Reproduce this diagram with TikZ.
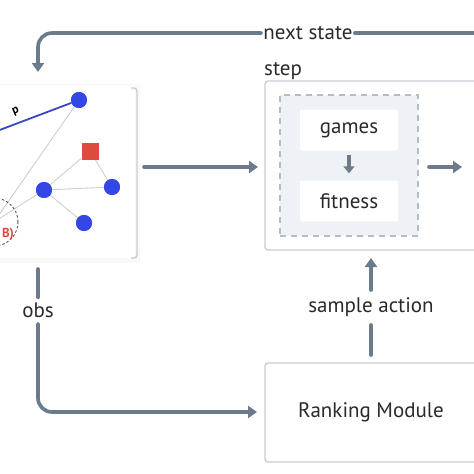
\documentclass[tikz,border=0pt]{standalone}
\usepackage{fontspec}
\setmainfont{PT Sans}
\usetikzlibrary{arrows.meta,calc}
\definecolor{arrowc}{HTML}{6B7B8C}
\definecolor{boxc}{HTML}{C8CDD3}
\definecolor{dashc}{HTML}{B5BCC4}
\definecolor{innerc}{HTML}{EEF1F5}
\definecolor{nodeblue}{HTML}{3446E6}
\definecolor{sqred}{HTML}{DD4B3E}
\definecolor{edgec}{HTML}{CFCFCF}
\definecolor{pline}{HTML}{3A46C4}
\definecolor{textc}{HTML}{2A2A2A}
\tikzset{
  flow/.style={line width=3.6pt, draw=arrowc, line cap=round},
  flowarrow/.style={flow, -{Triangle[length=9pt,width=12pt]}},
  label/.style={font=\fontsize{21}{21}\selectfont, text=textc, inner sep=0pt},
  bigbox/.style={draw=boxc, line width=1.4pt, rounded corners=3pt, fill=white, inner sep=0pt},
  whitebox/.style={fill=white, rounded corners=2pt, inner sep=0pt, minimum width=98pt, minimum height=41pt, font=\fontsize{21}{21}\selectfont, text=textc},
  bluenode/.style={circle, fill=nodeblue, minimum size=16pt, inner sep=0pt},
  redsq/.style={fill=sqred, minimum size=17pt, inner sep=0pt},
  edge/.style={draw=edgec, line width=0.9pt},
}
\begin{document}
\begin{tikzpicture}[x=1pt, y=-1pt]
\useasboundingbox (0,0) rectangle (474,474);
\begin{scope}
\clip (0,0) rectangle (474,474);
% left panel with soft shadow
\fill[black!5] (-6,86) rectangle (138,261);
\fill[black!2.5] (-6,84) rectangle (140,263);
\node[fill=white, inner sep=0pt, minimum width=141pt, minimum height=173pt] (panel) at (64.5,171.5) {};
% bracket
\draw[boxc, line width=1.4pt, rounded corners=3pt] (131,88) -- (137,88) -- (137,258) -- (131,258);
% graph
\coordinate (B) at (-6,222);
\coordinate (P) at (-40,145);
\node[bluenode] (n1) at (79,100) {};
\node[redsq] (sq) at (90,151) {};
\node[bluenode] (n2) at (44,190) {};
\node[bluenode] (n3) at (112,187) {};
\node[bluenode] (n4) at (84,223) {};
\draw[edge] (n1) -- (B);
\draw[edge] (n2) -- (B);
\draw[edge] (n2) -- (sq);
\draw[edge] (n2) -- (n3);
\draw[edge] (n2) -- (n4);
\draw[edge] (sq) -- (n3);
\draw[pline, line width=1.8pt] (P) -- (n1);
\node[font=\bfseries\fontsize{12}{12}\selectfont, rotate=22] (plab) at (16,112) {p};
\node[bluenode] at (n1) {};
\node[redsq] at (sq) {};
\node[bluenode] at (n2) {};
\node[bluenode] at (n3) {};
\node[bluenode] at (n4) {};
\node[circle, draw=black!65, dash pattern=on 2.5pt off 2pt, line width=0.9pt, minimum size=48pt, inner sep=0pt] (bc) at (B) {};
\node[text=sqred, font=\bfseries\fontsize{13}{13}\selectfont, inner sep=0pt] (blab) at (8,234) {B)};
\end{scope}
% step box
\node[bigbox, minimum width=215pt, minimum height=169pt] (step) at (372.5,165.5) {};
\node[label, anchor=base west] (steplab) at (264,75) {step};
\node[draw=dashc, fill=innerc, dashed, dash pattern=on 6pt off 5pt, line width=1.2pt, minimum width=138pt, minimum height=141pt, inner sep=0pt] (inner) at (349,165.5) {};
\node[whitebox] (games) at (349,130) {games};
\node[whitebox] (fitness) at (349,201) {fitness};
\draw[flow, line cap=butt, -{Triangle[length=7pt,width=11pt]}] ($(games.south)+(0,4)$) -- ($(fitness.north)+(0,-7)$);
% ranking
\node[bigbox, minimum width=215pt, minimum height=99pt] (rank) at (372.5,412.5) {};
\node[label] (ranklab) at (371,412) {Ranking Module};
% next state
\node[label] (ns) at (308,33) {next state};
\coordinate (nsr) at (480,33);
\coordinate (nsl) at (38,33);
\coordinate (nsd) at (38,72);
\draw[flow] (nsr) -- ([xshift=2pt]ns.east);
\draw[flowarrow, rounded corners=14pt] ([xshift=-2pt]ns.west) -- (nsl) -- (nsd);
% panel -> step
\coordinate (a1) at (144,167);
\coordinate (a2) at (258,167);
\draw[flowarrow] (a1) -- (a2);
% step -> right
\coordinate (a3) at (429,167);
\coordinate (a4) at (462,167);
\draw[flowarrow] (a3) -- (a4);
% obs
\node[label] (obs) at (38,310) {obs};
\coordinate (o1) at (38,269);
\coordinate (o2) at (38,412);
\coordinate (o3) at (257,412);
\draw[flow] (o1) -- ([yshift=5pt]obs.north);
\draw[flowarrow, rounded corners=14pt] ([yshift=-6pt]obs.south) -- (o2) -- (o3);
% sample action
\node[label] (sa) at (371,307) {sample action};
\coordinate (s0) at (371,355);
\coordinate (s0b) at (371,325);
\coordinate (s1) at (371,290);
\coordinate (s2) at (371,258);
\draw[flow] (s0) -- (s0b);
\draw[flowarrow] (s1) -- (s2);
\end{tikzpicture}
\end{document}
